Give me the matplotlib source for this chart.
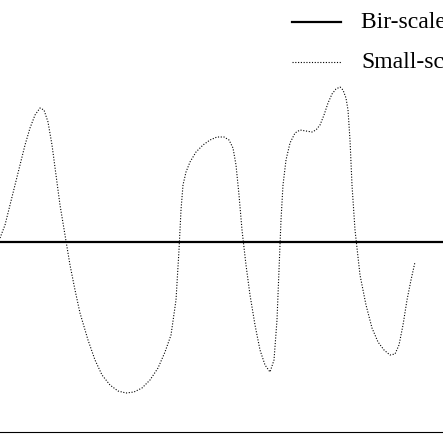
import matplotlib
matplotlib.use("Agg")
import matplotlib.pyplot as plt
from matplotlib.lines import Line2D

x_small = [0, 5, 10, 15, 20, 25, 30, 35, 40, 44, 48, 52, 56, 60, 65, 70, 75, 80, 88, 95, 102, 110, 118, 126, 134, 142, 150, 158, 165, 171, 176, 179, 181, 183, 186, 190, 196, 203, 210, 217, 224, 229, 233, 236, 239, 242, 246, 250, 255, 260, 265, 270, 274, 277, 279, 281, 283, 286, 290, 295, 300, 306, 312, 316, 320, 324, 328, 332, 336, 340, 343, 346, 348, 350, 352, 355, 360, 366, 372, 378, 384, 390, 395, 399, 403, 407, 411, 415]
y_small = [238, 225, 205, 185, 165, 145, 128, 115, 108, 110, 122, 145, 175, 205, 235, 265, 290, 313, 340, 360, 375, 385, 391, 393, 392, 388, 380, 368, 352, 335, 300, 250, 210, 185, 172, 162, 152, 145, 140, 137, 137, 140, 148, 165, 195, 230, 265, 295, 325, 350, 365, 372, 360, 320, 270, 220, 185, 160, 143, 133, 130, 131, 132, 130, 125, 115, 103, 94, 89, 87, 90, 98, 110, 140, 185, 230, 275, 305, 328, 342, 350, 355, 354, 345, 325, 300, 280, 262]
large_level = 242
baseline_level = 432

fig = plt.figure(figsize=(4.43, 4.43), dpi=100)
ax = fig.add_axes([0, 0, 1, 1])
ax.set_xlim(0, 443)
ax.set_ylim(443, 0)
ax.axis("off")
ax.axhline(large_level, color="black", lw=1.6)
ax.axhline(baseline_level, color="black", lw=0.8)
ax.plot(x_small, y_small, color="black", lw=0.8, ls=(0, (1, 1.5)))

fig.text(0.815, 0.95, "Bir-scale r", family="Liberation Serif", fontsize=17, va="center", ha="left")
fig.text(0.815, 0.86, "Small-sca", family="Liberation Serif", fontsize=17, va="center", ha="left")
fig.add_artist(Line2D([0.66, 0.77], [0.95, 0.95], color="black", lw=1.6, transform=fig.transFigure))
fig.add_artist(Line2D([0.66, 0.77], [0.86, 0.86], color="black", lw=0.8, ls=(0, (1, 1.5)), transform=fig.transFigure))
fig.savefig("out.png", dpi=100)
